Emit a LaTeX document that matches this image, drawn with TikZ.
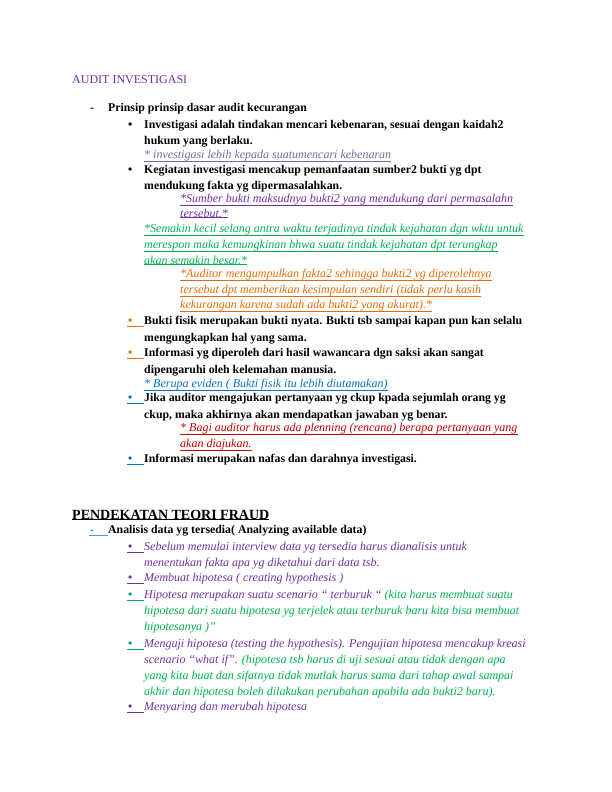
\documentclass[tikz,border=0pt]{standalone}
\usepackage{fontspec}
\setmainfont{Liberation Serif}
\definecolor{hpurple}{HTML}{7030A0}
\definecolor{gpurple}{HTML}{8064A2}
\definecolor{ggreen}{HTML}{00B050}
\definecolor{gorange}{HTML}{E36C09}
\definecolor{gblue}{HTML}{0070C0}
\definecolor{gred}{HTML}{C00000}
\tikzset{
  ln/.style={anchor=base west,inner sep=0pt,font=\fontsize{11.8}{12}\selectfont},
  bd/.style={ln,font=\fontsize{11.8}{12}\selectfont\bfseries},
  it/.style={ln,font=\fontsize{12}{12}\selectfont\itshape,text=#1},
  ul/.style={append after command={(\tikzlastnode.south west) edge[draw=#1,line width=0.5pt] (\tikzlastnode.south east)}},
  itu/.style={it=#1,ul=#1},
  bul/.style={anchor=base west,inner sep=0pt,font=\fontsize{12}{12}\selectfont\bfseries,text=#1},
}
\newcommand{\bl}[3]{% name, y, color
  \node[bul=#3] (#1) at (128pt,-#2pt) {•};
  \draw[#3,line width=0.5pt] (127pt,-#2pt-2pt) -- (144pt,-#2pt-2pt);}
\begin{document}
\begin{tikzpicture}[x=1pt,y=1pt]
\useasboundingbox (0,0) rectangle (612,-792);
\node[anchor=base west,inner sep=0pt,font=\fontsize{12}{14}\selectfont,text=hpurple] (t1) at (72,-84) {AUDIT INVESTIGASI};
\node[bd] (d1) at (90,-111) {-};
\node[bd] (h1) at (108,-111) {Prinsip prinsip dasar audit kecurangan};
\node[bul=black] (b1) at (128,-128) {•};
\node[bd] (a1) at (144,-128) {Investigasi adalah tindakan mencari kebenaran, sesuai dengan kaidah2};
\node[bd] (a2) at (144,-144) {hukum yang berlaku.};
\node[itu=gpurple] (a3) at (144,-158) {* investigasi lebih kepada suatumencari kebenaran};
\node[bul=black] (b2) at (128,-173) {•};
\node[bd] (a4) at (144,-173) {Kegiatan investigasi mencakup pemanfaatan sumber2 bukti yg dpt};
\node[bd] (a5) at (144,-189) {mendukung fakta yg dipermasalahkan.};
\node[itu=hpurple] (a6) at (180,-202) {*Sumber bukti maksudnya bukti2 yang mendukung dari permasalahn\ };
\node[itu=hpurple] (a7) at (180,-217) {tersebut.*};
\node[itu=ggreen] (a8) at (144,-232) {*Semakin kecil selang antra waktu terjadinya tindak kejahatan dgn wktu untuk};
\node[itu=ggreen] (a9) at (144,-248) {merespon maka kemungkinan bhwa suatu tindak kejahatan dpt terungkap\ };
\node[itu=ggreen] (a10) at (144,-264) {akan semakin besar.*};
\node[itu=gorange] (a11) at (180,-277) {*Auditor mengumpulkan fakta2 sehingga bukti2 yg diperolehnya\ };
\node[itu=gorange] (a12) at (180,-293) {tersebut dpt memberikan kesimpulan sendiri (tidak perlu kasih\ };
\node[itu=gorange] (a13) at (180,-308) {kekurangan karena sudah ada bukti2 yang akurat).*};
\bl{b3}{324}{gorange}
\node[bd] (a14) at (144,-324) {Bukti fisik merupakan bukti nyata. Bukti tsb sampai kapan pun kan selalu};
\node[bd] (a15) at (144,-341) {mengungkapkan hal yang sama.};
\bl{b4}{356}{gorange}
\node[bd] (a16) at (144,-356) {Informasi yg diperoleh dari hasil wawancara dgn saksi akan sangat};
\node[bd] (a17) at (144,-373) {dipengaruhi oleh kelemahan manusia.};
\node[itu=gblue] (a18) at (144,-387) {* Berupa eviden ( Bukti fisik itu lebih diutamakan)};
\bl{b5}{401}{gblue}
\node[bd] (a19) at (144,-401) {Jika auditor mengajukan pertanyaan yg ckup kpada sejumlah orang yg};
\node[bd] (a20) at (144,-418) {ckup, maka akhirnya akan mendapatkan jawaban yg benar.};
\node[itu=gred] (a21) at (180,-431) {* Bagi auditor harus ada plenning (rencana) berapa pertanyaan yang\ };
\node[itu=gred] (a22) at (180,-447) {akan diajukan.};
\bl{b6}{462}{gblue}
\node[bd] (a23) at (144,-462) {Informasi merupakan nafas dan darahnya investigasi.};
\node[anchor=base west,inner sep=0pt,font=\fontsize{14}{16}\selectfont\bfseries,ul=black] (t2) at (72,-519) {PENDEKATAN TEORI FRAUD};
\node[bd] (d2) at (90,-533) {\color{gblue}-};
\draw[gblue!70,line width=0.5pt] (89,-535) -- (108,-535);
\node[bd] (h2) at (108,-533) {Analisis data yg tersedia( Analyzing available data)};
\bl{c1}{550}{hpurple}
\node[it=hpurple] (e1) at (144,-550) {Sebelum memulai interview data yg tersedia harus dianalisis untuk};
\node[it=hpurple] (e2) at (144,-566) {menentukan fakta apa yg diketahui dari data tsb.};
\bl{c2}{581}{hpurple}
\node[it=hpurple] (e3) at (144,-581) {Membuat hipotesa ( creating hypothesis )};
\bl{c3}{598}{ggreen}
\node[it=hpurple] (e4) at (144,-598) {Hipotesa merupakan suatu scenario “ terburuk “ \textcolor{ggreen}{ (kita harus membuat suatu}};
\node[it=ggreen] (e5) at (144,-614) {hipotesa dari suatu hipotesa yg terjelek atau terburuk baru kita bisa membuat};
\node[it=ggreen] (e6) at (144,-630) {hipotesanya )”};
\bl{c4}{647}{ggreen}
\node[it=hpurple] (e7) at (144,-647) {Menguji hipotesa (testing the hypothesis). Pengujian hipotesa mencakup kreasi};
\node[it=hpurple] (e8) at (144,-663) {scenario “what if”. \textcolor{ggreen}{ (hipotesa tsb harus di uji sesuai atau tidak dengan apa}};
\node[it=ggreen] (e9) at (144,-679) {yang kita buat dan sifatnya tidak mutlak harus sama dari tahap awal sampai};
\node[it=ggreen] (e10) at (144,-695) {akhir dan hipotesa boleh dilakukan perubahan apabila ada bukti2 baru).};
\bl{c5}{710}{hpurple}
\node[it=hpurple] (e11) at (144,-710) {Menyaring dan merubah hipotesa};
\end{tikzpicture}
\end{document}
